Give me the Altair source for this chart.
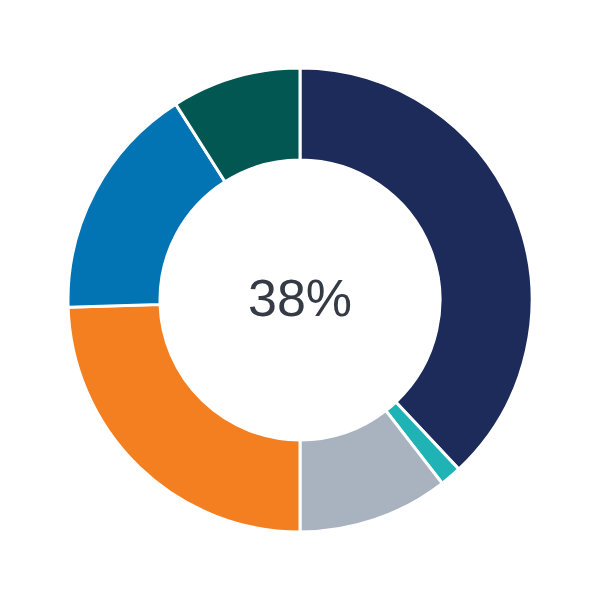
import altair as alt
import pandas as pd

categories = ["A", "B", "C", "D", "E", "F"]
values = [38, 1.5, 10.5, 24.5, 16.5, 9]
colors = ["#1c2b5a", "#1fb3b5", "#a9b3c0", "#f37f21", "#0274b3", "#025752"]
center_label = ["38%"]

df = pd.DataFrame({"cat": categories, "val": values, "idx": list(range(len(values)))})

arcs = alt.Chart(df).mark_arc(
    outerRadius=232, innerRadius=140, stroke="white", strokeWidth=3
).encode(
    theta=alt.Theta("val:Q", stack=True),
    color=alt.Color("cat:N", scale=alt.Scale(domain=categories, range=colors), legend=None),
    order=alt.Order("idx:Q"),
)

text = alt.Chart(pd.DataFrame({"t": center_label})).mark_text(
    fontSize=52, font="Liberation Sans", color="#353b45", baseline="middle", align="center"
).encode(text="t:N")

chart = alt.layer(arcs, text).properties(
    width=584, height=584, padding=0
).configure_view(stroke=None)

chart.save("out.html", embed_options={"renderer": "svg", "actions": False})
